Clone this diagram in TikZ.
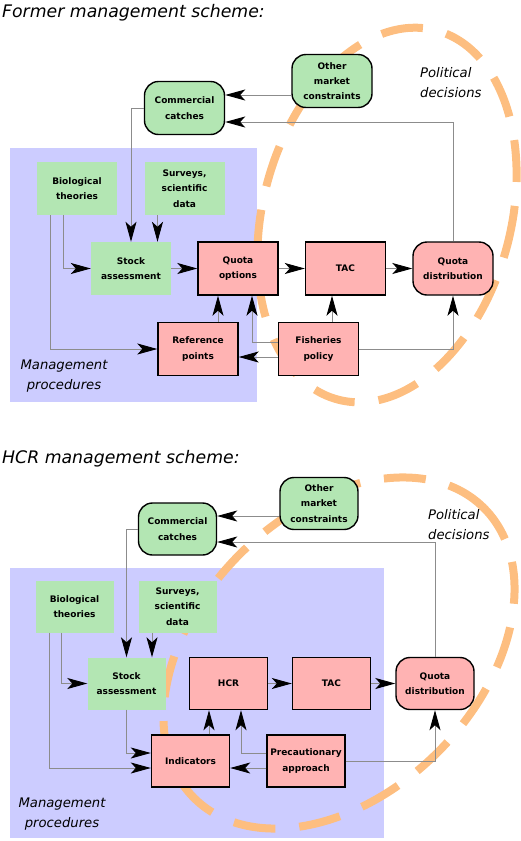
\documentclass[tikz,border=0pt]{standalone}
\usepackage{fontspec}
\setmainfont{DejaVu Sans}
\usetikzlibrary{arrows.meta}
\definecolor{procblue}{RGB}{204,204,255}
\definecolor{datagreen}{RGB}{179,230,179}
\definecolor{rulepink}{RGB}{255,179,179}
\definecolor{polorange}{RGB}{253,190,128}
\definecolor{linkgray}{RGB}{140,140,140}
\begin{document}
\begin{tikzpicture}[x=1pt,y=-1pt,
  box/.style={font=\fontsize{9}{15.3}\selectfont\bfseries,align=center,inner sep=0pt,minimum width=80pt,minimum height=53pt},
  data/.style={box,fill=datagreen},
  market/.style={box,fill=datagreen,draw=black,line width=1.4pt,rounded corners=14pt},
  decision/.style={box,fill=rulepink,draw=black,line width=1.4pt},
  share/.style={decision,rounded corners=14pt},
  note/.style={font=\fontsize{13.2}{20}\selectfont\itshape,inner sep=0pt},
  heading/.style={font=\fontsize{17.3}{20}\selectfont\itshape,inner sep=0pt,anchor=base west},
  link/.style={draw=linkgray,line width=0.9pt,arrows={-Stealth[length=20pt,width=11pt,inset=5pt,color=black]}},
  politics/.style={draw=polorange,line width=8pt,dash pattern=on 42pt off 24pt}]
\useasboundingbox (0,0) rectangle (520,841);

% former scheme
\node[heading] (title1) at (2,17) {Former management scheme:};
\fill[procblue] (10,148) rectangle (257,402);
\draw[politics, rotate around={-15:(387,215)}] (387,215) ellipse (124pt and 191pt);
\node[note, anchor=north west, align=left] (pol1) at (420,67) {Political\\decisions};
\node[note, align=center] (proc1) at (64,376) {Management\\procedures};

\node[market] (other1) at (332,81) {Other\\market\\constraints};
\node[market] (catch1) at (184.5,108) {Commercial\\catches};
\node[data] (bio1) at (77,188.5) {Biological\\theories};
\node[data] (survey1) at (184.5,188.5) {Surveys,\\scientific\\data};
\node[data] (stock1) at (131,268.5) {Stock\\assessment};
\node[decision] (quota1) at (238,268.5) {Quota\\options};
\node[decision] (tac1) at (345.5,268.5) {TAC};
\node[share] (distr1) at (453,268.5) {Quota\\distribution};
\node[decision] (ref1) at (198,349) {Reference\\points};
\node[decision] (policy1) at (318.5,349) {Fisheries\\policy};

\draw[link] ([yshift=-14pt]other1.west) -- ([yshift=13pt]catch1.east);
\draw[link] (distr1.north) |- ([yshift=-14pt]catch1.east);
\draw[link] (catch1.west) -| (stock1.north);
\draw[link] ([xshift=-27pt]survey1.south) -- ([xshift=-27pt]survey1.south |- stock1.north);
\draw[link] ([xshift=-14pt]bio1.south) |- (stock1.west);
\draw[link] ([xshift=-27pt]bio1.south) |- (ref1.west);
\draw[link] (stock1.east) -- (quota1.west);
\draw[link] (quota1.east) -- (tac1.west);
\draw[link] (tac1.east) -- (distr1.west);
\draw[link] ([xshift=20pt]ref1.north) -- ([xshift=20pt]ref1.north |- quota1.south);
\draw[link] ([yshift=7pt]policy1.west) -| ([xshift=14pt]quota1.south);
\draw[link] ([yshift=-8pt]policy1.west) -- ([yshift=-8pt]ref1.east);
\draw[link] ([xshift=13.5pt]policy1.north) -- ([xshift=13.5pt]policy1.north |- tac1.south);
\draw[link] (policy1.east) -| (distr1.south);

% HCR scheme
\begin{scope}[box/.append style={minimum width=78pt,minimum height=52pt}]
\node[heading] (title2) at (2,463) {HCR management scheme:};
\fill[procblue] (10,568) rectangle (384,838);
\draw[politics, rotate around={45:(339,653)}] (339,653) ellipse (205pt and 140pt);
\node[note, anchor=north west, align=left] (pol2) at (428,509) {Political\\decisions};
\node[note, align=center] (proc2) at (62,814) {Management\\procedures};

\node[market] (other2) at (319,503.5) {Other\\market\\constraints};
\node[market] (catch2) at (177.5,529) {Commercial\\catches};
\node[data] (bio2) at (74.5,606.5) {Biological\\theories};
\node[data] (survey2) at (177.5,606.5) {Surveys,\\scientific\\data};
\node[data] (stock2) at (126.5,683.5) {Stock\\assessment};
\node[decision] (hcr2) at (228.5,683.5) {HCR};
\node[decision] (tac2) at (331.5,683.5) {TAC};
\node[share] (distr2) at (435,683.5) {Quota\\distribution};
\node[decision] (ind2) at (190.5,761) {Indicators};
\node[decision] (caution2) at (306,761) {Precautionary\\approach};

\draw[link] ([yshift=-12.5pt]other2.west) -- ([yshift=13pt]catch2.east);
\draw[link] (distr2.north) |- ([yshift=-13pt]catch2.east);
\draw[link] (catch2.west) -| (stock2.north);
\draw[link] ([xshift=-25.5pt]survey2.south) -- ([xshift=-25.5pt]survey2.south |- stock2.north);
\draw[link] ([xshift=-13.5pt]bio2.south) |- (stock2.west);
\draw[link] ([xshift=-25.5pt]bio2.south) |- ([yshift=-7pt]ind2.west);
\draw[link] (stock2.south) |- ([yshift=8pt]ind2.west);
\draw[link] ([xshift=18.5pt]ind2.north) -- ([xshift=18.5pt]ind2.north |- hcr2.south);
\draw[link] ([yshift=8pt]caution2.west) -| ([xshift=12.5pt]hcr2.south);
\draw[link] ([yshift=-7pt]caution2.west) -- ([yshift=-7pt]ind2.east);
\draw[link] (caution2.east) -| (distr2.south);
\draw[link] (hcr2.east) -- (tac2.west);
\draw[link] (tac2.east) -- (distr2.west);
\end{scope}
\end{tikzpicture}
\end{document}
